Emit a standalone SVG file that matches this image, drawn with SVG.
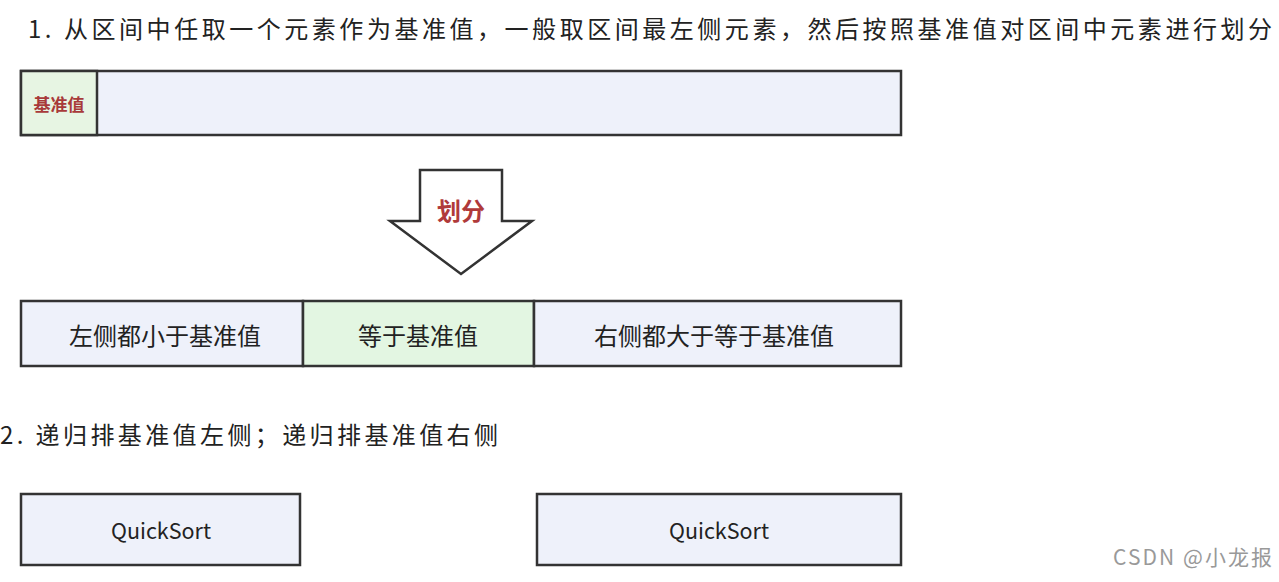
<svg xmlns="http://www.w3.org/2000/svg" width="1279" height="582" viewBox="0 0 1279 582">
<style>
.t{font-family:"Noto Sans CJK SC","Noto Sans",sans-serif;fill:#222}
.b{stroke:#333;stroke-width:2.5}
.c{text-anchor:middle;dominant-baseline:central}
</style>
<rect width="1279" height="582" fill="#fff"/>
<text class="t" x="28" y="38" font-size="24" textLength="1244" lengthAdjust="spacing">1. 从区间中任取一个元素作为基准值，一般取区间最左侧元素，然后按照基准值对区间中元素进行划分</text>
<g id="box1">
<rect class="b" x="21" y="71" width="880" height="64" fill="#eef1fa"/>
<rect class="b" x="21" y="71" width="76" height="64" fill="#e7f5e3"/>
<text class="t c" x="59" y="103" font-size="17" font-weight="bold" style="fill:#a83a3a">基准值</text>
</g>
<g id="arrow">
<path class="b" d="M420,170 H502 V221 H532 L461,274 L390,221 H420 Z" fill="#fff"/>
<text class="t c" x="461" y="209" font-size="24" font-weight="bold" style="fill:#b03a3a">划分</text>
</g>
<g id="row">
<rect class="b" x="21" y="301" width="282" height="65" fill="#eef1fa"/>
<rect class="b" x="303" y="301" width="231" height="65" fill="#e3f6e2"/>
<rect class="b" x="534" y="301" width="367" height="65" fill="#eef1fa"/>
<text class="t c" x="165" y="334" font-size="24">左侧都小于基准值</text>
<text class="t c" x="418" y="334" font-size="24">等于基准值</text>
<text class="t c" x="714" y="334" font-size="24">右侧都大于等于基准值</text>
</g>
<text class="t" x="0" y="444" font-size="24" textLength="498" lengthAdjust="spacing">2. 递归排基准值左侧；递归排基准值右侧</text>
<g id="qs1">
<rect class="b" x="21" y="494" width="279" height="71" fill="#eef1fa"/>
<text class="t c" x="161" y="529" font-size="21.5">QuickSort</text>
</g>
<g id="qs2">
<rect class="b" x="537" y="494" width="364" height="71" fill="#eef1fa"/>
<text class="t c" x="719" y="529" font-size="21.5">QuickSort</text>
</g>
<text class="t" x="1113" y="565" font-size="21" textLength="159" style="fill:#999">CSDN @小龙报</text>
</svg>
